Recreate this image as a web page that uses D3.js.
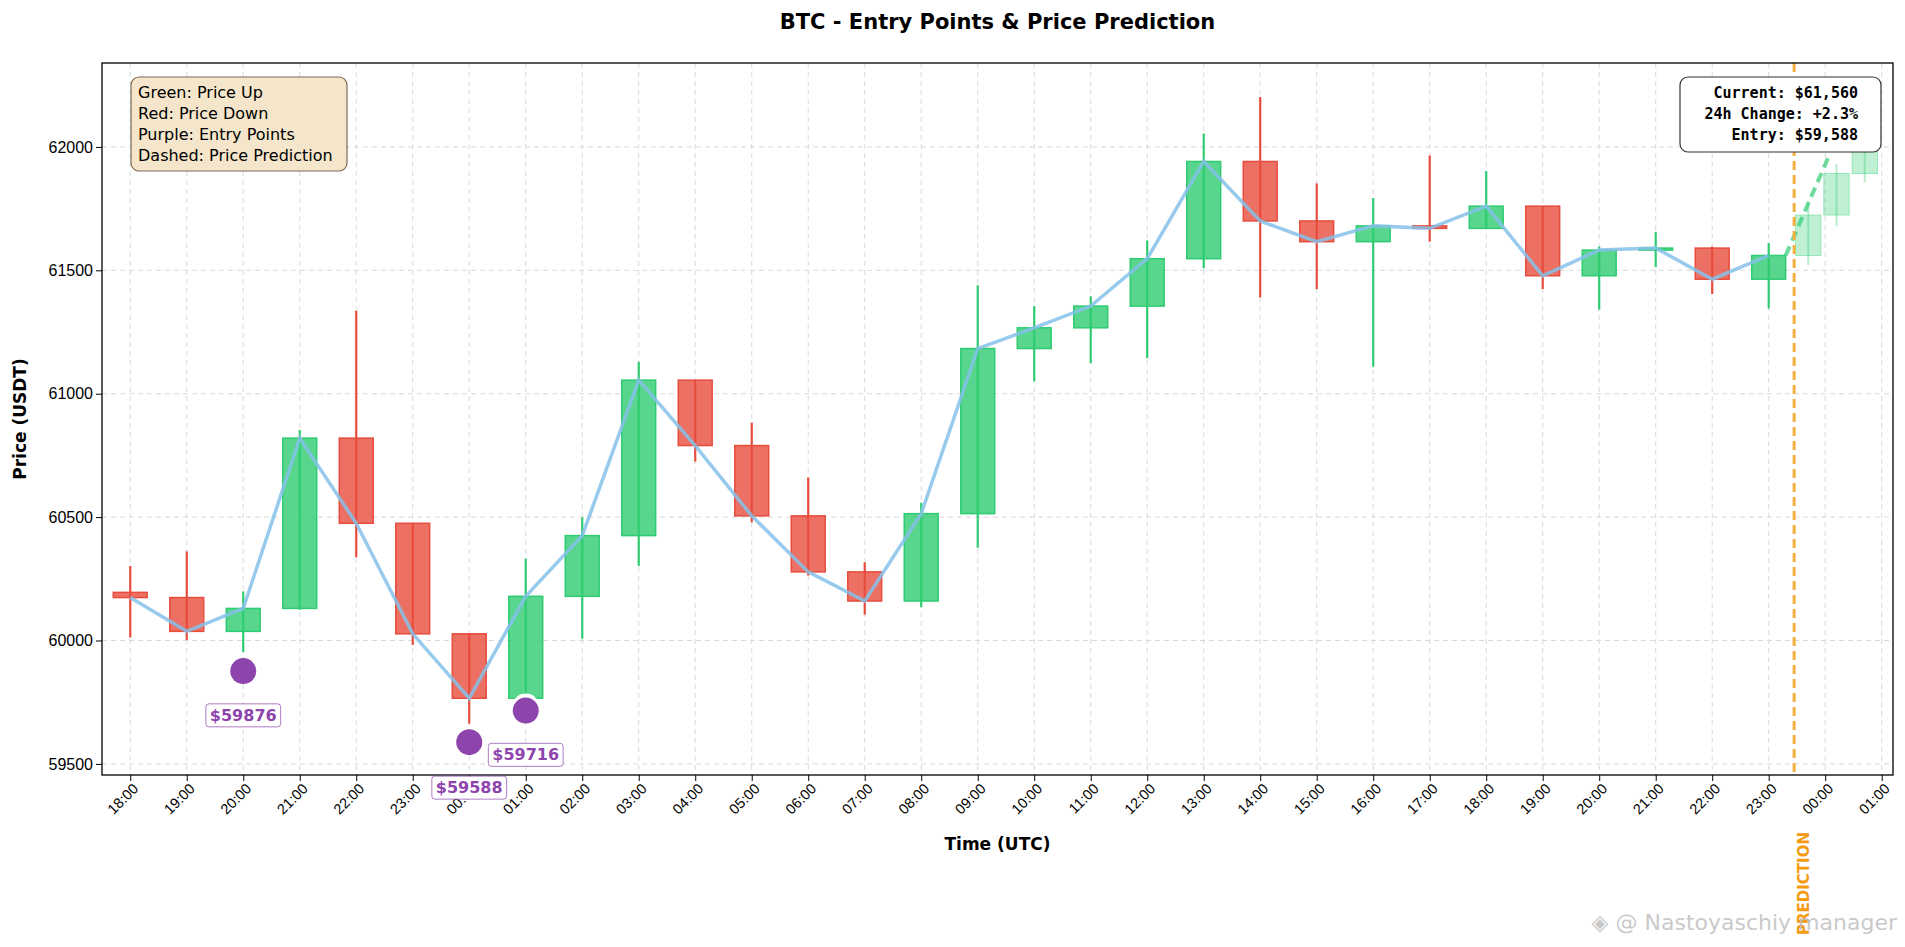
<!DOCTYPE html>
<html>
<head>
<meta charset="utf-8">
<script src="https://cdn.jsdelivr.net/npm/d3@7"></script>
<style>
  body { margin: 0; background: #fff; font-family: "DejaVu Sans", sans-serif; }
</style>
</head>
<body>
<script>
// hourly candles, 18:00 day 1 .. 23:00 day 2
var hours = ["18:00","19:00","20:00","21:00","22:00","23:00","00:00","01:00","02:00","03:00","04:00","05:00","06:00","07:00","08:00","09:00","10:00","11:00","12:00","13:00","14:00","15:00","16:00","17:00","18:00","19:00","20:00","21:00","22:00","23:00","00:00","01:00"];
var opens  = [60195,60174,60037,60130,60820,60475,60027,59766,60179,60425,61055,60790,60505,60278,60160,60514,61183,61267,61355,61547,61941,61700,61616,61680,61670,61760,61478,61585,61590,61464];
var closes = [60174,60037,60130,60820,60475,60027,59766,60179,60425,61055,60790,60505,60278,60160,60514,61183,61267,61355,61547,61941,61700,61616,61680,61670,61760,61478,61582,61590,61464,61560];
var highs  = [60302,60361,60199,60853,61336,60475,60030,60332,60499,61129,61055,60883,60661,60317,60558,61439,61355,61395,61621,62054,62202,61852,61793,61965,61902,61760,61596,61656,61596,61611];
var lows   = [60012,60002,59953,60125,60337,59982,59663,59766,60007,60302,60725,60479,60263,60105,60135,60376,61050,61124,61144,61508,61390,61424,61109,61616,61670,61424,61341,61513,61404,61345];

// predicted candles (position in hours from first candle)
var predX     = [29.7, 30.2, 30.7];
var predOpen  = [61560, 61724, 61892];
var predClose = [61724, 61892, 62064];
var predHigh  = [61780, 61930, 62064];
var predLow   = [61520, 61680, 61857];
var predLineX = [29.3, 30.05];
var predLineY = [61560, 61955];
var predMarker = 29.45;

// entry points
var entryX = [2, 6, 7];
var entryY = [59876, 59588, 59716];
var entryLabelDy = [36, 37, 36];

var W = 1905, H = 947;
var m = {left: 102, right: 12, top: 63, bottom: 172};

var svg = d3.select("body").append("svg").attr("width", W).attr("height", H);

var x = d3.scaleLinear().domain([-0.5, 31.2]).range([m.left, W - m.right]);
var y = d3.scaleLinear().domain([59455, 62340]).range([H - m.bottom, m.top]);

var green = "#2ecc71", red = "#e74c3c", purple = "#8e44ad";

// grid
var grid = svg.append("g").attr("stroke", "#d9d9d9").attr("stroke-dasharray", "5,4").attr("stroke-width", 1);
d3.range(0, 32).forEach(function(i) {
  grid.append("line").attr("x1", x(i)).attr("x2", x(i)).attr("y1", m.top).attr("y2", H - m.bottom);
});
[59500, 60000, 60500, 61000, 61500, 62000].forEach(function(v) {
  grid.append("line").attr("x1", m.left).attr("x2", W - m.right).attr("y1", y(v)).attr("y2", y(v));
});

var plot = svg.append("g");
var bw = x(0.6) - x(0);

// candles
closes.forEach(function(c, i) {
  var col = c >= opens[i] ? green : red;
  plot.append("line").attr("x1", x(i)).attr("x2", x(i))
    .attr("y1", y(highs[i])).attr("y2", y(lows[i]))
    .attr("stroke", col).attr("stroke-width", 2.2);
  var top = Math.max(c, opens[i]), bot = Math.min(c, opens[i]);
  plot.append("rect").attr("x", x(i) - bw / 2).attr("width", bw)
    .attr("y", y(top)).attr("height", Math.max(2, y(bot) - y(top)))
    .attr("fill", col).attr("fill-opacity", 0.8)
    .attr("stroke", col).attr("stroke-width", 1.5);
});

// close line
plot.append("path")
  .datum(closes)
  .attr("d", d3.line().x(function(d, i) { return x(i); }).y(function(d) { return y(d); }))
  .attr("fill", "none").attr("stroke", "#85c1e9").attr("stroke-width", 3.5).attr("stroke-opacity", 0.85);

// predicted candles
var pw = x(0.45) - x(0);
predX.forEach(function(px, i) {
  plot.append("line").attr("x1", x(px)).attr("x2", x(px))
    .attr("y1", y(predHigh[i])).attr("y2", y(predLow[i]))
    .attr("stroke", green).attr("stroke-opacity", 0.35).attr("stroke-width", 2);
  plot.append("rect").attr("x", x(px) - pw / 2).attr("width", pw)
    .attr("y", y(predClose[i])).attr("height", y(predOpen[i]) - y(predClose[i]))
    .attr("fill", green).attr("fill-opacity", 0.3)
    .attr("stroke", green).attr("stroke-opacity", 0.4);
});
plot.append("line")
  .attr("x1", x(predLineX[0])).attr("y1", y(predLineY[0]))
  .attr("x2", x(predLineX[1])).attr("y2", y(predLineY[1]))
  .attr("stroke", green).attr("stroke-opacity", 0.7).attr("stroke-width", 4).attr("stroke-dasharray", "10,6");

// prediction marker
svg.append("line").attr("x1", x(predMarker)).attr("x2", x(predMarker))
  .attr("y1", m.top).attr("y2", H - m.bottom)
  .attr("stroke", "#f5b041").attr("stroke-width", 3).attr("stroke-dasharray", "9,5");
svg.append("text").attr("transform", "translate(" + (x(predMarker) + 15) + "," + 935 + ") rotate(-90)")
  .attr("fill", "#f39c12").attr("font-weight", "bold").attr("font-size", 15).text("PREDICTION");

// entries
entryX.forEach(function(ex, i) {
  if (i === 2) {
    svg.append("circle").attr("cx", x(ex)).attr("cy", y(entryY[i]) - 3).attr("r", 14).attr("fill", "#fff");
  }
  svg.append("circle").attr("cx", x(ex)).attr("cy", y(entryY[i])).attr("r", 13).attr("fill", purple);
  var lx = x(ex), ly = y(entryY[i]) + entryLabelDy[i] * 1.215;
  var g = svg.append("g");
  var t = g.append("text").attr("x", lx).attr("y", ly + 6).attr("text-anchor", "middle")
    .attr("fill", purple).attr("font-weight", "bold").attr("font-size", 16).text("$" + entryY[i]);
  var bb = t.node().getBBox();
  g.insert("rect", "text").attr("x", bb.x - 4).attr("y", bb.y - 2).attr("width", bb.width + 8).attr("height", bb.height + 4)
    .attr("rx", 3).attr("fill", "#fff").attr("stroke", purple).attr("stroke-opacity", 0.7);
});

// axes
var xAxis = svg.append("g").attr("transform", "translate(0," + (H - m.bottom) + ")")
  .call(d3.axisBottom(x).tickValues(d3.range(0, 32)).tickFormat(function(d) { return hours[d]; }).tickSizeOuter(0));
xAxis.selectAll("text").attr("font-size", 14.5).attr("text-anchor", "end")
  .attr("transform", "rotate(-45)").attr("dx", "-0.3em").attr("dy", "0.5em");
var yAxis = svg.append("g").attr("transform", "translate(" + m.left + ",0)")
  .call(d3.axisLeft(y).tickValues([59500, 60000, 60500, 61000, 61500, 62000]).tickFormat(d3.format("d")).tickSizeOuter(0));
yAxis.selectAll("text").attr("font-size", 16);
svg.selectAll(".domain").remove();
svg.selectAll(".tick line").attr("stroke", "#000");
svg.append("rect").attr("x", m.left).attr("y", m.top).attr("width", W - m.left - m.right).attr("height", H - m.top - m.bottom)
  .attr("fill", "none").attr("stroke", "#000").attr("stroke-width", 1.3);
// keep the 00:00 entry label over the axis
svg.selectAll("g").filter(function() { return this.querySelector && this.querySelector("rect[rx='3']"); }).raise();

// titles
svg.append("text").attr("x", (m.left + W - m.right) / 2).attr("y", 29).attr("text-anchor", "middle")
  .attr("font-weight", "bold").attr("font-size", 21).text("BTC - Entry Points & Price Prediction");
svg.append("text").attr("x", (m.left + W - m.right) / 2).attr("y", 850).attr("text-anchor", "middle")
  .attr("font-weight", "bold").attr("font-size", 17).text("Time (UTC)");
svg.append("text").attr("transform", "translate(26," + ((m.top + H - m.bottom) / 2) + ") rotate(-90)").attr("text-anchor", "middle")
  .attr("font-weight", "bold").attr("font-size", 17).text("Price (USDT)");

// legend box
var lg = svg.append("g");
lg.append("rect").attr("x", 131).attr("y", 77).attr("width", 216).attr("height", 94).attr("rx", 8)
  .attr("fill", "#f5e6cb").attr("stroke", "#7a6a55").attr("stroke-width", 1.2);
["Green: Price Up", "Red: Price Down", "Purple: Entry Points", "Dashed: Price Prediction"].forEach(function(s, i) {
  lg.append("text").attr("x", 138).attr("y", 98 + i * 21).attr("font-size", 16).text(s);
});

// info box
var ib = svg.append("g");
ib.append("rect").attr("x", 1680).attr("y", 77).attr("width", 201).attr("height", 75).attr("rx", 8)
  .attr("fill", "#fff").attr("stroke", "#333").attr("stroke-width", 1.2);
["Current: $61,560", "24h Change: +2.3%", "Entry: $59,588"].forEach(function(s, i) {
  ib.append("text").attr("x", 1858).attr("y", 98 + i * 21).attr("text-anchor", "end")
    .attr("font-family", "DejaVu Sans Mono, monospace").attr("font-weight", "bold").attr("font-size", 15).text(s);
});

// watermark
svg.append("text").attr("x", 1897).attr("y", 930).attr("text-anchor", "end")
  .attr("fill", "#bbb").attr("fill-opacity", 0.8).attr("font-size", 22).text("◈ @ Nastoyaschiy manager");
</script>
</body>
</html>
